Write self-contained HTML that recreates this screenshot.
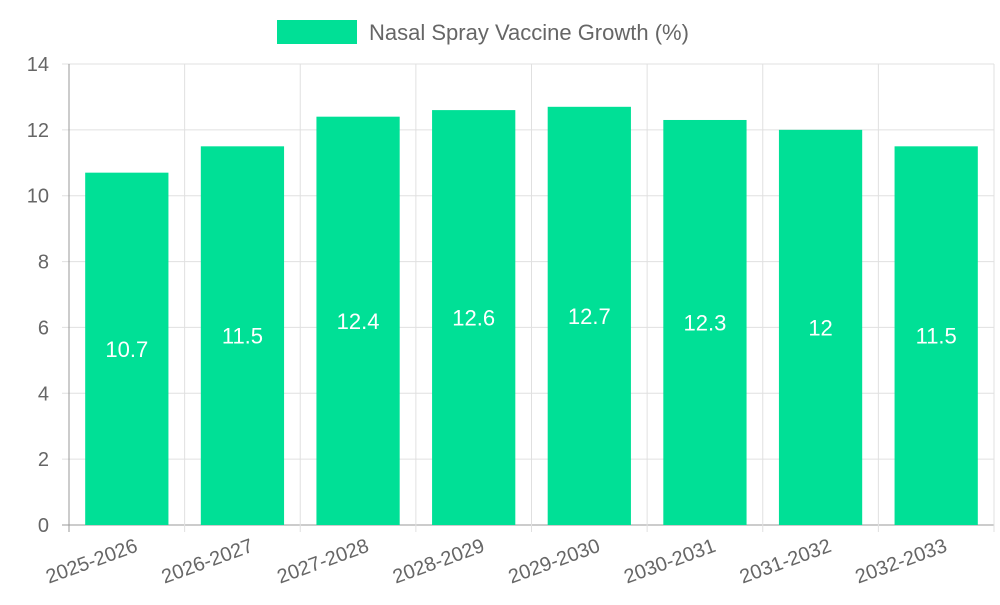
<!DOCTYPE html>
<html><head><meta charset="utf-8"><style>
body{margin:0;background:#fff;}
svg text{font-family:"Liberation Sans",sans-serif;}
</style></head><body>
<svg id="chart" width="1000" height="600" xmlns="http://www.w3.org/2000/svg">
<g>
<rect x="277" y="20" width="80" height="24" fill="#00e096"/>
<text x="369" y="40" font-size="22" fill="#666">Nasal Spray Vaccine Growth (%)</text>
</g>
<g id="grid"></g><g id="bars"></g><g id="axes"></g>
</svg>
<script>
const categories=["2025-2026","2026-2027","2027-2028","2028-2029","2029-2030","2030-2031","2031-2032","2032-2033"];
const values=[10.7,11.5,12.4,12.6,12.7,12.3,12,11.5];
const yTicks=[0,2,4,6,8,10,12,14];
const L=69,R=994,T=64,B=525,yMax=14;
const NS="http://www.w3.org/2000/svg";
const bw=(R-L)/categories.length;
const y=v=>B-(v/yMax)*(B-T);
const x=i=>L+i*bw;
function mk(tag,attrs,parent,text){const e=document.createElementNS(NS,tag);for(const k in attrs)e.setAttribute(k,attrs[k]);if(text!==undefined)e.textContent=text;document.getElementById(parent).appendChild(e);return e;}
yTicks.forEach(t=>{
 const g=mk('line',{x1:L-7,x2:R,y1:y(t),y2:y(t),stroke:t===0?'#999':'#e0e0e0','stroke-width':1},'grid');
 
 
 const tx=mk('text',{x:L-20,y:y(t)+7,'text-anchor':'end','font-size':20,fill:'#666'},'axes',String(t));
 
 
});
for(let i=0;i<=categories.length;i++){
 const g=mk('line',{x1:x(i),x2:x(i),y1:T,y2:B+7,stroke:i===0?'#999':'#e0e0e0','stroke-width':1},'grid');
 
 
}
categories.forEach((c,i)=>{
 const w=bw*0.72,cx=x(i)+bw/2;
 const r=mk('rect',{x:cx-w/2,y:y(values[i]),width:w,height:B-y(values[i]),fill:'#00e096'},'bars');
 
 
 const v=mk('text',{x:cx,y:(y(values[i])+B)/2+8,'text-anchor':'middle','font-size':22,fill:'#fff'},'bars',String(values[i]));
 
 
 const t=mk('text',{x:cx+12,y:B+26,'text-anchor':'end','font-size':20,fill:'#666',transform:`rotate(-20 ${cx+12} ${B+26})`},'axes',c);
 
 
});
</script>
</body></html>
